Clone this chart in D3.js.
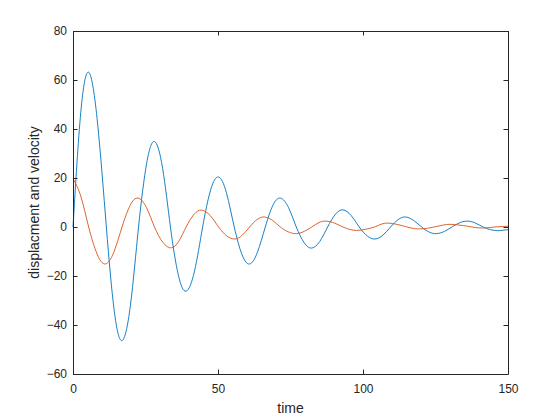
<!DOCTYPE html>
<html>
<head>
<meta charset="utf-8">
<script src="https://cdn.jsdelivr.net/npm/d3@7"></script>
<style>
  body { margin: 0; background: #fff; }
  text { font-family: "Liberation Sans", Arial, Helvetica, sans-serif; fill: #262626; }
</style>
</head>
<body>
<div></div>
<script>
var width = 560;
var height = 420;

// blue curve (extrema, zero crossings and mid points)
var line1Time = [0, 2.7, 5.5, 8.5, 11.5, 14.2, 16.9, 19.8, 22.6, 25.4, 28.1, 30.9, 33.6,
                 36.3, 39.0, 41.9, 44.7, 47.5, 50.2, 52.9, 55.6, 58.3, 60.9, 63.6, 66.3, 68.9, 71.5,
                 74.3, 77.0, 79.7, 82.3, 85.1, 87.8, 90.5, 93.1, 95.9, 98.7, 101.5, 104.2, 106.9,
                 109.5, 112.1, 114.6, 117.3, 120.0, 122.7, 125.3, 128.1, 130.8, 133.5, 136.1, 138.8,
                 141.4, 144.0, 146.5, 148.3, 150];
var line1Values = [0, 47, 63.1, 42, 0, -34, -46.4, -32, 0, 26, 34.9, 24, 0,
                   -19.5, -26.2, -18, 0, 15.3, 20.4, 14, 0, -11.3, -15.1, -10.3, 0, 8.8, 11.8,
                   8.0, 0, -6.4, -8.6, -5.9, 0, 5.2, 7.0, 4.7, 0, -3.7, -4.9, -3.3,
                   0, 3.0, 4.1, 2.8, 0.2, -2.0, -2.7, -1.8, 0.1, 1.8, 2.4, 1.6,
                   0, -1.1, -1.5, -1.3, -1.1];

// orange curve
var line2Time = [0, 2.7, 5.4, 8.3, 11.1, 14.0, 16.9, 19.7, 22.4, 25.3, 28.1, 31.0, 33.9, 36.5, 39.0,
                 41.7, 44.3, 47.3, 50.2, 53.0, 55.8, 58.4, 60.9, 63.4, 65.9, 68.7, 71.5, 74.3, 77.0,
                 79.7, 82.3, 84.8, 87.2, 90.2, 93.1, 95.5, 97.8, 101.0, 104.2, 106.4, 108.6, 111.6,
                 114.6, 117.0, 119.4, 122.3, 125.3, 127.7, 130.0, 133.0, 136.1, 138.6, 141.2, 143.8,
                 146.5, 150];
var line2Values = [19.8, 12.5, 0, -11.0, -15.1, -10.5, 0, 8.8, 11.8, 8.0, 0, -6.3, -8.5, -5.8, 0,
                   5.1, 6.9, 4.7, 0, -3.6, -4.9, -3.3, 0, 3.0, 4.1, 2.8, 0, -2.0, -2.7,
                   -1.8, 0, 1.8, 2.4, 1.6, 0, -1.0, -1.4, -0.9, 0.1, 1.2, 1.6, 1.1,
                   0.2, -0.5, -0.8, -0.5, 0.2, 0.8, 1.1, 0.8, 0.3, -0.2, -0.4, -0.2,
                   0.1, 0.3];

var xTicks = [0, 50, 100, 150];
var yTicks = [-60, -40, -20, 0, 20, 40, 60, 80];

var plotLeft = 73, plotRight = 508, plotTop = 31, plotBottom = 374;

var x = d3.scaleLinear().domain([0, 150]).range([plotLeft, plotRight]);
var y = d3.scaleLinear().domain([-60, 80]).range([plotBottom, plotTop]);

var svg = d3.select("div")
  .append("svg")
  .attr("width", width)
  .attr("height", height)
  .style("display", "block");

svg.append("rect")
  .attr("width", width)
  .attr("height", height)
  .attr("fill", "#fff");

var line = d3.line()
  .x(function(d) { return x(d[0]); })
  .y(function(d) { return y(d[1]); })
  .curve(d3.curveNatural);

var plot = svg.append("g");

plot.append("path")
  .datum(d3.zip(line1Time, line1Values))
  .attr("d", line)
  .attr("fill", "none")
  .attr("stroke", "#0072BD")
  .attr("stroke-width", 0.9);

plot.append("path")
  .datum(d3.zip(line2Time, line2Values))
  .attr("d", line)
  .attr("fill", "none")
  .attr("stroke", "#D95319")
  .attr("stroke-width", 0.9);

// axes, ticks pointing inward, mirrored on top and right
var tickLen = 4.5;
var axisColor = "#262626";

svg.append("g")
  .attr("transform", "translate(0," + plotBottom + ")")
  .call(d3.axisBottom(x).tickValues(xTicks).tickSizeInner(-tickLen).tickSizeOuter(0).tickPadding(10))
  .call(function(g) {
    g.selectAll("text").style("font-size", "12px").attr("fill", axisColor);
  });

svg.append("g")
  .attr("transform", "translate(0," + plotTop + ")")
  .call(d3.axisTop(x).tickValues(xTicks).tickSizeInner(-tickLen).tickSizeOuter(0).tickFormat(""));

svg.append("g")
  .attr("transform", "translate(" + plotLeft + ",0)")
  .call(d3.axisLeft(y).tickValues(yTicks).tickSizeInner(-tickLen).tickSizeOuter(0).tickPadding(6))
  .call(function(g) {
    g.selectAll("text").style("font-size", "12px").attr("fill", axisColor);
  });

svg.append("g")
  .attr("transform", "translate(" + plotRight + ",0)")
  .call(d3.axisRight(y).tickValues(yTicks).tickSizeInner(-tickLen).tickSizeOuter(0).tickFormat(""));

svg.selectAll(".domain").attr("stroke", axisColor);
svg.selectAll(".tick line").attr("stroke", axisColor);

svg.append("text")
  .attr("x", (plotLeft + plotRight) / 2)
  .attr("y", 413)
  .attr("text-anchor", "middle")
  .style("font-size", "14px")
  .text("time");

svg.append("text")
  .attr("transform", "translate(39," + (plotTop + plotBottom) / 2 + ") rotate(-90)")
  .attr("text-anchor", "middle")
  .style("font-size", "14px")
  .text("displacment and velocity");
</script>
</body>
</html>
